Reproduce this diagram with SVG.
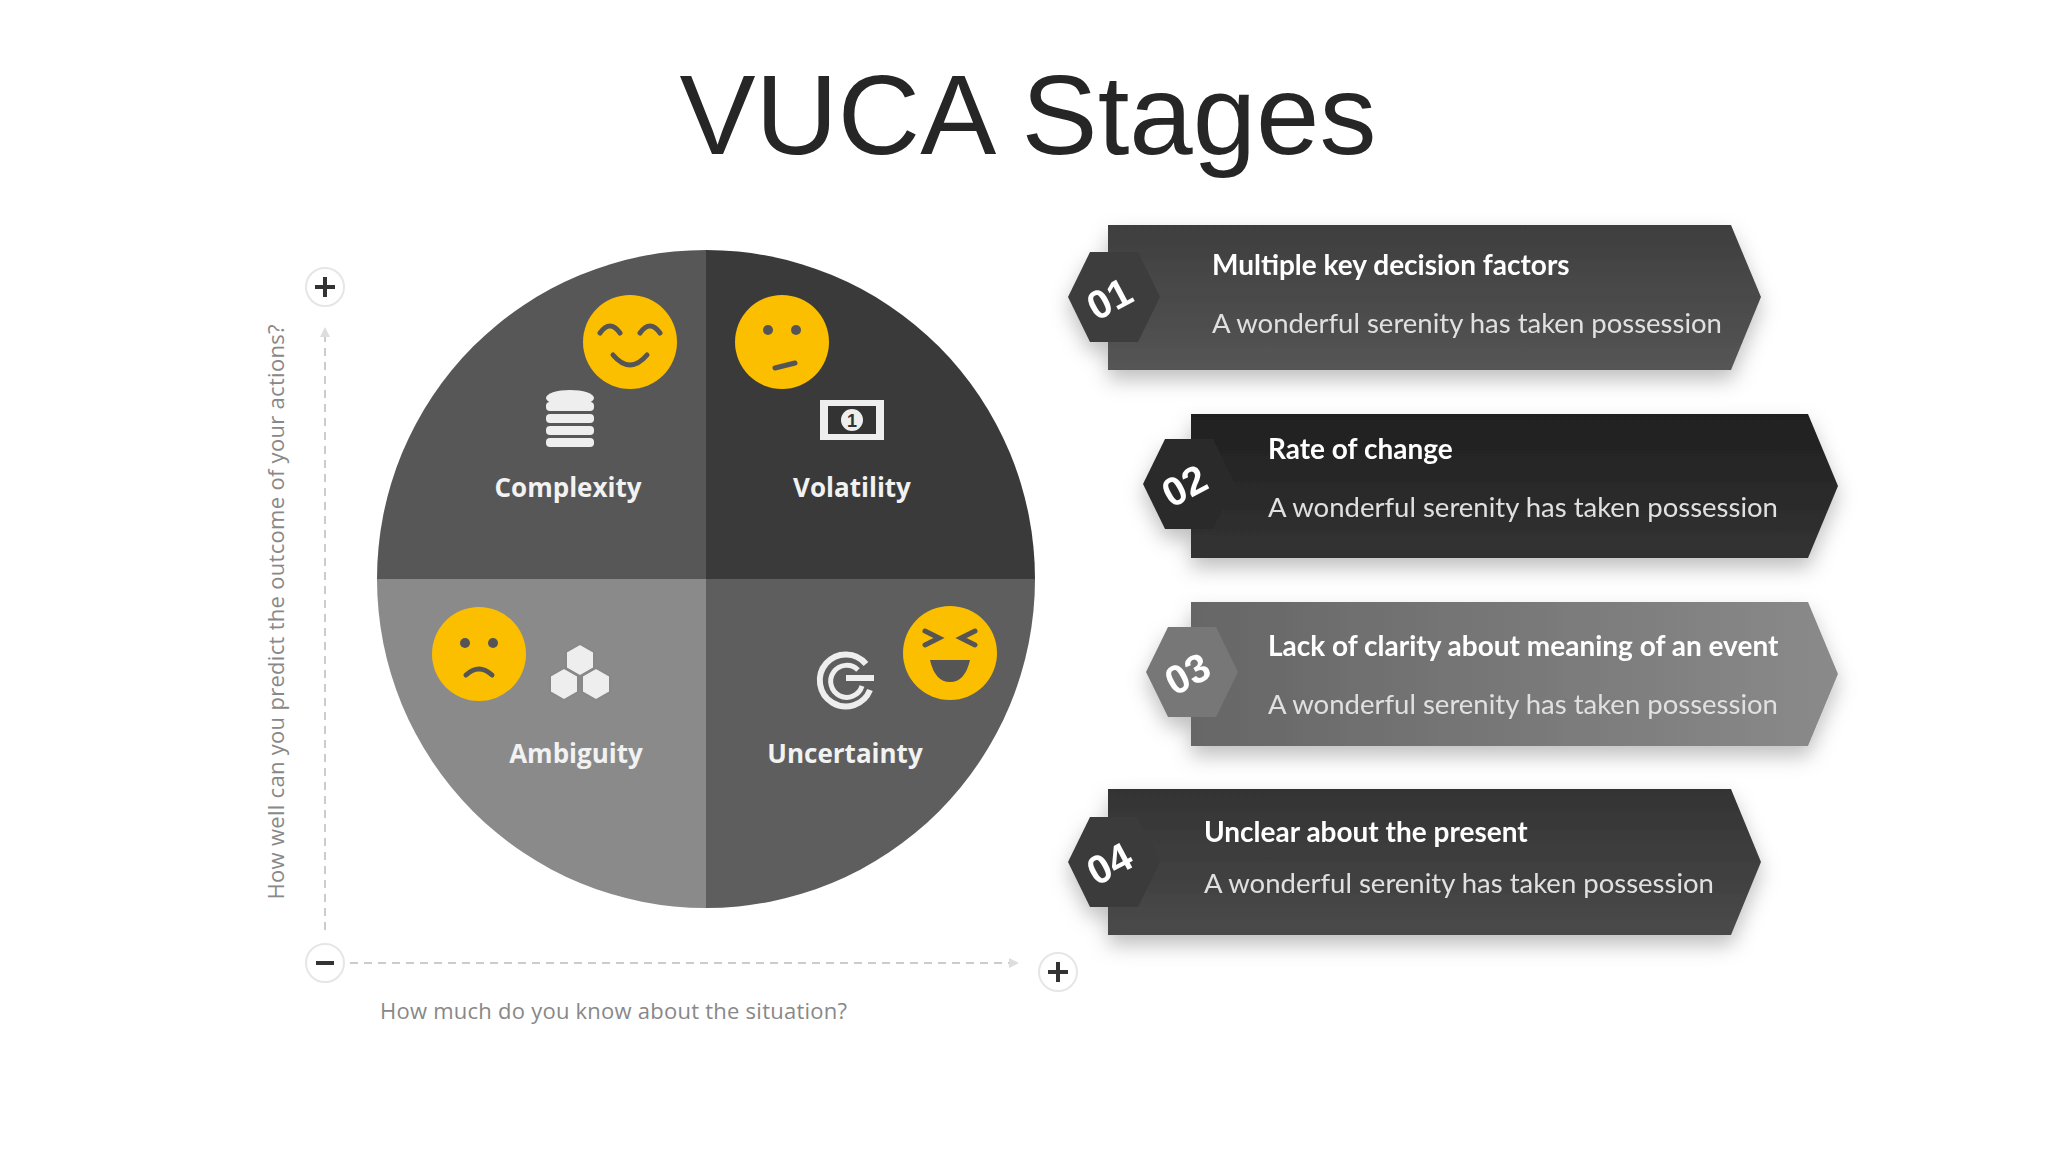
<svg xmlns="http://www.w3.org/2000/svg" width="2048" height="1152" viewBox="0 0 2048 1152">
<defs>
<style>
.lbl{font-family:"Open Sans","Liberation Sans",sans-serif;font-weight:700;font-size:26px;fill:#f2f2f2;text-anchor:middle}
.bt{font-family:Lato,"Liberation Sans",sans-serif;font-weight:700;font-size:28px;fill:#fff}
.bs{font-family:Lato,"Liberation Sans",sans-serif;font-size:27.5px;fill:#e0e0e0}
.num{font-family:"Liberation Sans",sans-serif;font-weight:700;font-size:40px;fill:#fff;text-anchor:middle}
.ax{font-family:"Open Sans","Liberation Sans",sans-serif;font-size:22px;fill:#888}
.face{fill:#fbbf00}
.ft{fill:none;stroke:#555;stroke-width:5;stroke-linecap:round}
.pm{fill:#fff;stroke:#e6e6e6;stroke-width:2}
</style>
<linearGradient id="g1" x1="0" y1="0" x2="0" y2="1"><stop offset="0" stop-color="#3e3e3e"/><stop offset="1" stop-color="#555"/></linearGradient>
<linearGradient id="g2" x1="0" y1="0" x2="0" y2="1"><stop offset="0" stop-color="#1f1f1f"/><stop offset="1" stop-color="#333"/></linearGradient>
<linearGradient id="g3" x1="0" y1="0" x2="1" y2="0"><stop offset="0" stop-color="#666"/><stop offset="1" stop-color="#8a8a8a"/></linearGradient>
<linearGradient id="g4" x1="0" y1="0" x2="0" y2="1"><stop offset="0" stop-color="#333"/><stop offset="1" stop-color="#4a4a4a"/></linearGradient>
<filter id="sh" x="-10%" y="-20%" width="120%" height="150%"><feDropShadow dx="0" dy="10" stdDeviation="10" flood-color="#000" flood-opacity="0.25"/></filter>
<marker id="ar" viewBox="0 0 10 10" refX="9" refY="5" markerWidth="10" markerHeight="10" orient="auto-start-reverse" markerUnits="userSpaceOnUse"><path d="M0,0 L10,5 L0,10 Z" fill="#ddd"/></marker>
</defs>
<rect width="2048" height="1152" fill="#fff"/>
<text x="1028" y="154" font-family="Liberation Sans,Arial,sans-serif" font-size="114" fill="#262626" text-anchor="middle">VUCA Stages</text>

<g id="axes">
<line x1="325" y1="930" x2="325" y2="328" stroke="#ccc" stroke-width="2" stroke-dasharray="8,6" marker-end="url(#ar)"/>
<line x1="350" y1="963" x2="1018" y2="963" stroke="#ccc" stroke-width="2" stroke-dasharray="8,6" marker-end="url(#ar)"/>
<circle class="pm" cx="325" cy="287" r="19"/><path d="M315,287h20M325,277v20" stroke="#333" stroke-width="4"/>
<circle class="pm" cx="325" cy="963" r="19"/><path d="M316,963h18" stroke="#333" stroke-width="4"/>
<circle class="pm" cx="1058" cy="972" r="19"/><path d="M1048,972h20M1058,962v20" stroke="#333" stroke-width="4"/>
<text class="ax" transform="translate(284,612) rotate(-90)" text-anchor="middle" textLength="575">How well can you predict the outcome of your actions?</text>
<text class="ax" x="380" y="1019" textLength="467">How much do you know about the situation?</text>
</g>

<g id="circle">
<path d="M706,579 L377,579 A329,329 0 0 1 706,250 Z" fill="#575757"/>
<path d="M706,579 L706,250 A329,329 0 0 1 1035,579 Z" fill="#3a3a3a"/>
<path d="M706,579 L377,579 A329,329 0 0 0 706,908 Z" fill="#8a8a8a"/>
<path d="M706,579 L1035,579 A329,329 0 0 1 706,908 Z" fill="#5e5e5e"/>
</g>

<g id="complexity">
<g fill="#eee"><ellipse cx="570" cy="398" rx="24" ry="8"/><rect x="546" y="402" width="48" height="9" rx="4"/><rect x="546" y="414" width="48" height="9" rx="4"/><rect x="546" y="426" width="48" height="9" rx="4"/><rect x="546" y="438" width="48" height="9" rx="4"/></g>
<text class="lbl" x="568" y="497">Complexity</text>
<circle class="face" cx="630" cy="342" r="47"/>
<path class="ft" d="M600,333 q10,-14 20,0 M640,333 q10,-14 20,0 M613,355 q17,20 34,0"/>
</g>
<g id="volatility">
<rect x="820" y="400" width="64" height="40" fill="#eee"/><rect x="828" y="406" width="48" height="28" fill="#333"/><circle cx="852" cy="420" r="11" fill="#eee"/><text x="852" y="427" font-family="Liberation Sans,sans-serif" font-weight="700" font-size="18" text-anchor="middle" fill="#333">1</text>
<text class="lbl" x="852" y="497">Volatility</text>
<circle class="face" cx="782" cy="342" r="47"/>
<circle cx="768" cy="330" r="5" fill="#555"/><circle cx="796" cy="330" r="5" fill="#555"/><path class="ft" d="M775,368 l20,-5"/>
</g>
<g id="ambiguity">
<g fill="#eee" stroke="#888" stroke-width="2"><path d="M566,652 l14,-8 14,8 v16 l-14,8 -14,-8 z"/><path d="M550,676 l14,-8 14,8 v16 l-14,8 -14,-8 z"/><path d="M582,676 l14,-8 14,8 v16 l-14,8 -14,-8 z"/></g>
<text class="lbl" x="576" y="763">Ambiguity</text>
<circle class="face" cx="479" cy="654" r="47"/>
<circle cx="465" cy="643" r="5" fill="#555"/><circle cx="493" cy="643" r="5" fill="#555"/><path class="ft" d="M466,675 q13,-12 26,0"/>
</g>
<g id="uncertainty">
<path d="M866,664 A26,26 0 1 0 870,690" fill="none" stroke="#eee" stroke-width="6"/><path d="M858,670 A16,16 0 1 0 862,686" fill="none" stroke="#eee" stroke-width="5"/><path d="M846,678 h28" stroke="#eee" stroke-width="6"/>
<text class="lbl" x="845" y="763">Uncertainty</text>
<circle class="face" cx="950" cy="653" r="47"/>
<path class="ft" d="M925,631 l14,7 -14,7 M975,631 l-14,7 14,7"/><path d="M930,660 h40 q-5,22 -20,22 q-15,0 -20,-22 z" fill="#555"/>
</g>

<g id="b1" filter="url(#sh)">
<path d="M1108,225 L1731,225 L1761,297 L1731,370 L1108,370 Z" fill="url(#g1)"/>
<path d="M1068,297 L1090,252 L1138,252 L1160,297 L1138,342 L1090,342 Z" fill="#3d3d3d"/>
<text class="num" transform="translate(1116,311) rotate(-28)">01</text>
<text class="bt" x="1212" y="275">Multiple key decision factors</text>
<text class="bs" x="1212" y="333">A wonderful serenity has taken possession</text>
</g>
<g id="b2" filter="url(#sh)">
<path d="M1191,414 L1808,414 L1838,486 L1808,558 L1191,558 Z" fill="url(#g2)"/>
<path d="M1143,484 L1165,439 L1213,439 L1235,484 L1213,529 L1165,529 Z" fill="#2c2c2c"/>
<text class="num" transform="translate(1191,498) rotate(-28)">02</text>
<text class="bt" x="1268" y="459">Rate of change</text>
<text class="bs" x="1268" y="517">A wonderful serenity has taken possession</text>
</g>
<g id="b3" filter="url(#sh)">
<path d="M1191,602 L1808,602 L1838,674 L1808,746 L1191,746 Z" fill="url(#g3)"/>
<path d="M1146,672 L1168,627 L1216,627 L1238,672 L1216,717 L1168,717 Z" fill="#777"/>
<text class="num" transform="translate(1194,686) rotate(-28)">03</text>
<text class="bt" x="1268" y="656">Lack of clarity about meaning of an event</text>
<text class="bs" x="1268" y="714">A wonderful serenity has taken possession</text>
</g>
<g id="b4" filter="url(#sh)">
<path d="M1108,789 L1731,789 L1761,862 L1731,935 L1108,935 Z" fill="url(#g4)"/>
<path d="M1068,862 L1090,817 L1138,817 L1160,862 L1138,907 L1090,907 Z" fill="#3a3a3a"/>
<text class="num" transform="translate(1116,876) rotate(-28)">04</text>
<text class="bt" x="1204" y="842">Unclear about the present</text>
<text class="bs" x="1204" y="893">A wonderful serenity has taken possession</text>
</g>
</svg>
